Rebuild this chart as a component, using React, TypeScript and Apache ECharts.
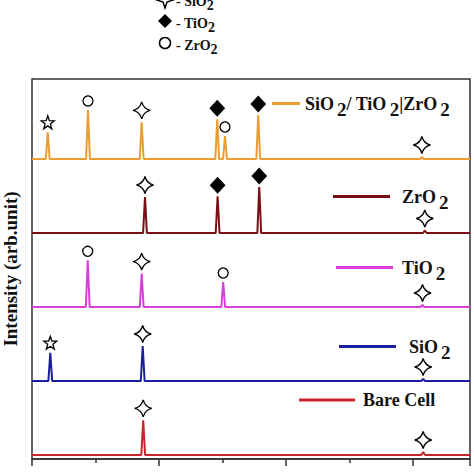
import React, { useEffect, useRef } from "react";
import * as echarts from "echarts";

// ---- data ----
const X_MIN = 10;
const X_MAX = 44.5;
const X_INTERVAL = 10;
const Y_MAX = 380;

const seriesNames = ["SiO2/TiO2/ZrO2", "ZrO2", "TiO2", "SiO2", "Bare Cell"];
const seriesColors = ["#E99D33", "#7A0E14", "#D83FD8", "#1B1E9E", "#C8262C"];
const baselines = [300, 226, 152, 78, 4];

const orangePeaksX = [11.24, 14.41, 18.64, 24.59, 25.2, 27.82, 40.71];
const orangePeaksH = [26.7, 49, 36.7, 39.7, 23, 44, 2];
const orangeMarks = ["star5", "circle", "star4", "diamond", "circle", "diamond", "star4"];

const zrPeaksX = [18.9, 24.62, 27.9, 40.94];
const zrPeaksH = [36, 36.7, 46, 2.5];
const zrMarks = ["star4", "diamond", "diamond", "star4"];

const tiPeaksX = [14.39, 18.64, 25.06, 40.76];
const tiPeaksH = [46.7, 33.4, 25, 2];
const tiMarks = ["circle", "star4", "circle", "star4"];

const siPeaksX = [11.44, 18.72, 40.81];
const siPeaksH = [28.3, 35, 2];
const siMarks = ["star5", "star4", "star4"];

const barePeaksX = [18.76, 40.81];
const barePeaksH = [34.6, 3];
const bareMarks = ["star4", "star4"];

const peaksX = [orangePeaksX, zrPeaksX, tiPeaksX, siPeaksX, barePeaksX];
const peaksH = [orangePeaksH, zrPeaksH, tiPeaksH, siPeaksH, barePeaksH];
const marks = [orangeMarks, zrMarks, tiMarks, siMarks, bareMarks];

const legendLabels = [
  "{f|SiO}{s|2}{m|/ TiO}{s|2}{m||ZrO}{s|2}",
  "{f|ZrO}{s|2}",
  "{f|TiO}{s|2}",
  "{f|SiO}{s|2}",
  "{f|Bare Cell}",
];

// ---- styling ----
const FONT = "Liberation Serif";
const PEAK_HALF_WIDTH = 0.15;
const STAR4 =
  "path://M0,-10 Q2,-2 10,0 Q2,2 0,10 Q-2,2 -10,0 Q-2,-2 0,-10 Z";
const STAR5 =
  "path://M0,-10 L2.35,-3.24 L9.51,-3.09 L3.8,1.24 L5.88,8.09 L0,4 L-5.88,8.09 L-3.8,1.24 L-9.51,-3.09 L-2.35,-3.24 Z";

const markerStyle: Record<string, any> = {
  star4: { symbol: STAR4, symbolSize: 17, offset: -12, color: "#fff" },
  star5: { symbol: STAR5, symbolSize: 13, offset: -10, color: "#fff" },
  diamond: { symbol: "diamond", symbolSize: [14, 15], offset: -11, color: "#000" },
  circle: { symbol: "circle", symbolSize: 10, offset: -9, color: "#fff" },
};

const legendPos = [
  { left: 272, w: 28, cy: 104, gap: 0 },
  { left: 333, w: 57, cy: 197, gap: 7 },
  { left: 336, w: 57, cy: 268, gap: 4 },
  { left: 339, w: 57, cy: 347, gap: 8 },
  { left: 299, w: 56, cy: 401, gap: 3 },
];

const baseText = { fontFamily: FONT, fontWeight: "bold", fontSize: 18, lineHeight: 20, color: "#111" };
function richFor(gap: number) {
  return {
    f: { ...baseText, padding: [0, 0, 0, gap] },
    m: { ...baseText },
    s: { ...baseText, fontSize: 19, padding: [12, 0, 0, 3] },
  };
}

function buildLine(i: number) {
  const base = baselines[i];
  const pts: number[][] = [[X_MIN, base]];
  peaksX[i].forEach((x, k) => {
    pts.push([x - PEAK_HALF_WIDTH, base]);
    pts.push([x, base + peaksH[i][k]]);
    pts.push([x + PEAK_HALF_WIDTH, base]);
  });
  pts.push([X_MAX, base]);
  return pts;
}

function buildMarks(i: number) {
  const base = baselines[i];
  return peaksX[i].map((x, k) => {
    const st = markerStyle[marks[i][k]];
    return {
      coord: [x, base + peaksH[i][k]],
      symbol: st.symbol,
      symbolSize: st.symbolSize,
      symbolOffset: [0, st.offset],
      itemStyle: { color: st.color, borderColor: "#000", borderWidth: 1.3 },
    };
  });
}

const keyRich = {
  m: { fontFamily: FONT, fontWeight: "bold", fontSize: 14, lineHeight: 16, fill: "#111" },
  s: { fontFamily: FONT, fontWeight: "bold", fontSize: 14, lineHeight: 16, fill: "#111", padding: [8, 0, 0, 0] },
};

export default function App() {
  const ref = useRef<HTMLDivElement>(null);
  useEffect(() => {
    if (!ref.current) return;
    const chart = echarts.init(ref.current, null, { renderer: "svg" });
    chart.setOption({
      animation: false,
      backgroundColor: "#fff",
      grid: {
        left: 32,
        right: 4,
        top: 79,
        bottom: 15,
        show: true,
        borderColor: "#333",
        borderWidth: 1.5,
        containLabel: false,
        outerBoundsMode: "none",
      },
      xAxis: {
        type: "value",
        min: X_MIN,
        max: X_MAX,
        interval: X_INTERVAL,
        axisLine: { show: true, lineStyle: { color: "#333", width: 1.5 } },
        axisTick: { show: true, length: 7, inside: false, lineStyle: { color: "#333", width: 1.5 } },
        minorTick: { show: true, splitNumber: 2, length: 4, lineStyle: { color: "#333", width: 1.5 } },
        axisLabel: { show: false },
        splitLine: { show: false },
      },
      yAxis: {
        type: "value",
        min: 0,
        max: Y_MAX,
        name: "Intensity (arb.unit)",
        nameLocation: "middle",
        nameRotate: 90,
        nameGap: 12,
        nameTextStyle: { fontFamily: FONT, fontWeight: "bold", fontSize: 19, color: "#111" },
        axisLine: { show: false },
        axisTick: { show: false },
        axisLabel: { show: false },
        splitLine: { show: false },
      },
      legend: seriesNames.map((name, i) => ({
        data: [name],
        left: legendPos[i].left,
        top: legendPos[i].cy - (i === 4 ? 10 : 16),
        padding: 0,
        icon: "rect",
        itemWidth: legendPos[i].w,
        itemHeight: 3,
        selectedMode: false,
        formatter: () => legendLabels[i],
        textStyle: { rich: richFor(legendPos[i].gap) },
      })),
      series: seriesNames.map((name, i) => ({
        name,
        type: "line",
        symbol: "none",
        color: seriesColors[i],
        lineStyle: { color: seriesColors[i], width: 2 },
        data: buildLine(i),
        markPoint: {
          label: { show: false },
          data: buildMarks(i),
        },
      })),
      graphic: [
        { type: "polygon", x: 165, y: 0, shape: { points: [[0, -8], [2, -2], [8, 0], [2, 2], [0, 8], [-2, 2], [-8, 0], [-2, -2]] }, style: { fill: "#fff", stroke: "#000", lineWidth: 1.5 } },
        { type: "text", x: 176, y: 1, style: { text: "{m|- SiO}{s|2}", verticalAlign: "middle", rich: keyRich } },
        { type: "polygon", x: 165, y: 21, shape: { points: [[0, -7], [7, 0], [0, 7], [-7, 0]] }, style: { fill: "#000" } },
        { type: "text", x: 176, y: 23, style: { text: "{m|- TiO}{s|2}", verticalAlign: "middle", rich: keyRich } },
        { type: "circle", x: 165, y: 43, shape: { r: 5.5 }, style: { fill: "#fff", stroke: "#000", lineWidth: 1.5 } },
        { type: "text", x: 176, y: 45, style: { text: "{m|- ZrO}{s|2}", verticalAlign: "middle", rich: keyRich } },
      ],
    });
    return () => chart.dispose();
  }, []);
  return <div ref={ref} style={{ width: 474, height: 474, position: "absolute", left: 0, top: 0 }} />;
}
